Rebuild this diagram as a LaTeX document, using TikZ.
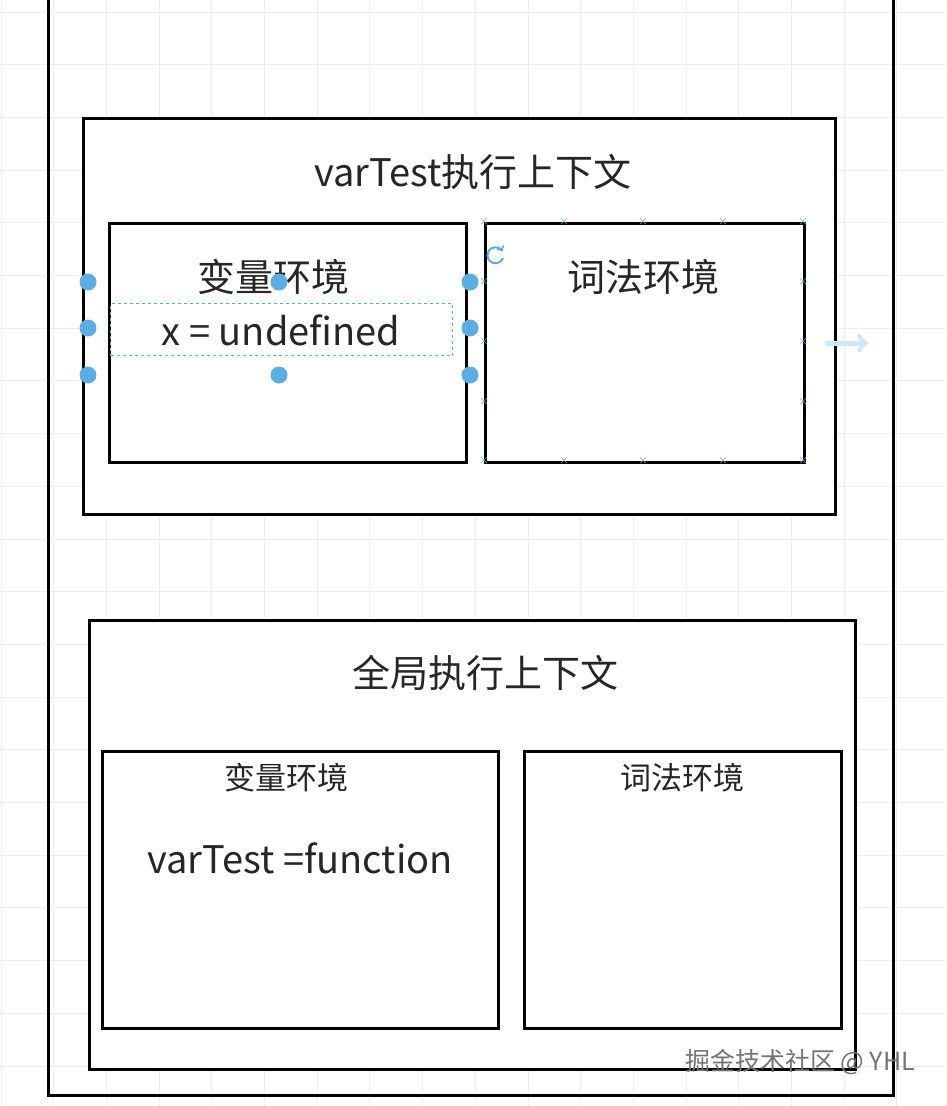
\documentclass[tikz,border=0pt]{standalone}
\usepackage{fontspec}
\setmainfont{Noto Sans CJK SC}
\definecolor{sel}{HTML}{5DADE2}
\begin{document}
\begin{tikzpicture}[x=1pt,y=-1pt,
  box/.style={draw=black,line width=3pt},
  dot/.style={circle,fill=sel,inner sep=0pt,minimum size=17pt},
  xm/.style={font=\fontsize{10}{10}\selectfont,text=sel,inner sep=0pt},
  big/.style={font=\fontsize{38}{38}\selectfont,text=black!85},
  small/.style={font=\fontsize{31}{31}\selectfont,text=black!85}]
\useasboundingbox[fill=white] (0,0) rectangle (946,1106);
\foreach \i in {0,...,18} {\draw[black!7,line width=1pt] (\i*52.7+1,0) -- (\i*52.7+1,1106);}
\foreach \j in {0,...,21} {\draw[black!7,line width=1pt] (0,\j*52.7+12) -- (946,\j*52.7+12);}
\coordinate (s1) at (48,0); \coordinate (s2) at (48,1095);
\coordinate (s3) at (893,1095); \coordinate (s4) at (893,0);
\draw[box] (s1) -- (s2) -- (s3) -- (s4);
% varTest context
\node[box,fill=white,minimum width=752pt,minimum height=396pt,anchor=north west] (c1) at (82,117) {};
\node[big] (t1) at (473,172) {varTest执行上下文};
\node[box,fill=white,minimum width=357pt,minimum height=239pt,anchor=north west] (v1) at (108,222) {};
\node[big] (v1t) at (273,277) {变量环境};
\node[draw=sel,dashed,line width=1pt,minimum width=342pt,minimum height=52pt,anchor=north west] (xb) at (110,303) {};
\node[big] (xt) at (281,330) {x = undefined};
\foreach \x/\y [count=\k] in {88/282,88/328,88/375,279/282,279/375,470/282,470/328,470/375} {\node[dot] (d\k) at (\x,\y) {};}
\node[box,fill=white,minimum width=319pt,minimum height=239pt,anchor=north west] (l1) at (484,222) {};
\node[big] (l1t) at (643,277) {词法环境};
\foreach \x/\y [count=\k] in {484/222,564/222,643/222,723/222,803/222,484/461,564/461,643/461,723/461,803/461,484/282,484/342,484/402,803/282,803/342,803/402} {\node[xm] (m\k) at (\x,\y) {×};}
\draw[sel,line width=2pt,->] (503,258) arc (20:330:8);
\coordinate (a1) at (825,343); \coordinate (a2) at (868,343);
\draw[sel!30,line width=5pt,->] (a1) -- (a2);
% global context
\node[box,fill=white,minimum width=766pt,minimum height=449pt,anchor=north west] (c2) at (88,619) {};
\node[big] (t2) at (485,673) {全局执行上下文};
\node[box,fill=white,minimum width=396pt,minimum height=277pt,anchor=north west] (v2) at (101,750) {};
\node[small] (v2t) at (286,778) {变量环境};
\node[big] (vt) at (300,858) {varTest =function};
\node[box,fill=white,minimum width=317pt,minimum height=277pt,anchor=north west] (l2) at (523,750) {};
\node[small] (l2t) at (682,778) {词法环境};
\node[font=\fontsize{25}{25}\selectfont,text=black!55] (wm) at (800,1062) {掘金技术社区 @ YHL};
\end{tikzpicture}
\end{document}
